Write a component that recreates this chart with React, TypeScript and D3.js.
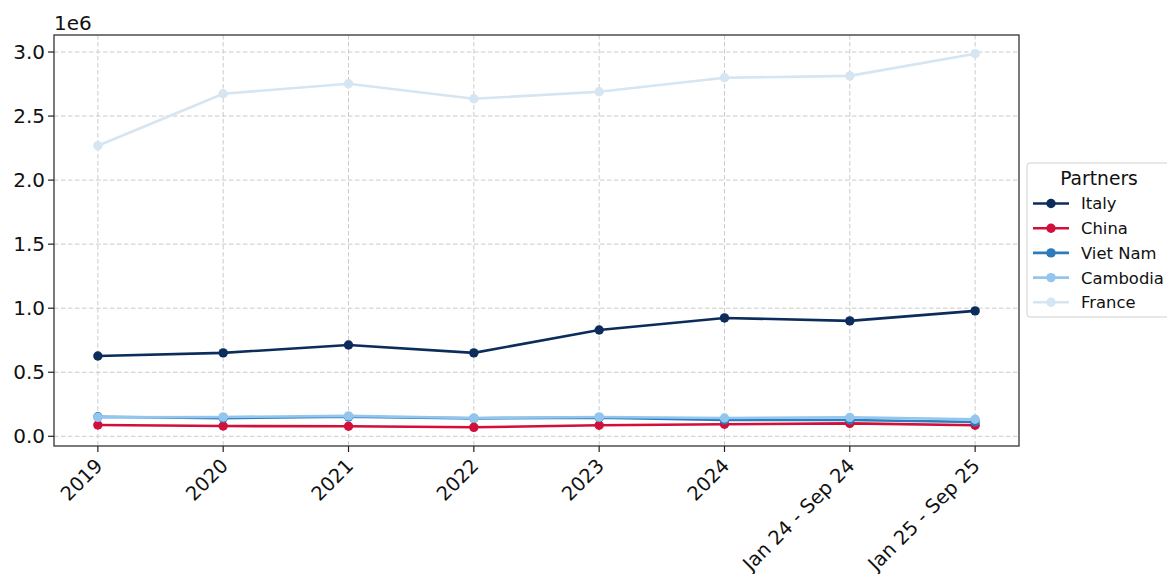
import React from "react";
import * as d3 from "d3";

const categories = ["2019", "2020", "2021", "2022", "2023", "2024", "Jan 24 - Sep 24", "Jan 25 - Sep 25"];
const italy = [627000, 651000, 713000, 651000, 830000, 924000, 901000, 979000];
const china = [88000, 80000, 78000, 70000, 86000, 94000, 101000, 86000];
const vietNam = [152000, 142000, 152000, 140000, 146000, 128000, 127000, 112000];
const cambodia = [148000, 151000, 159000, 143000, 151000, 143000, 148000, 133000];
const france = [2268000, 2674000, 2752000, 2635000, 2690000, 2799000, 2814000, 2987000];
const yTicks = [0, 0.5, 1.0, 1.5, 2.0, 2.5, 3.0];

const series = [
  { name: "Italy", values: italy, color: "#0c2c5c" },
  { name: "China", values: china, color: "#d10f3a" },
  { name: "Viet Nam", values: vietNam, color: "#2c7bba" },
  { name: "Cambodia", values: cambodia, color: "#93c6ee" },
  { name: "France", values: france, color: "#d5e5f1" },
];

export default function App() {
  const W = 1167, H = 574;
  const L = 54, R = 1019, T = 35, B = 446;
  const all = series.flatMap(s => s.values);
  const mn = d3.min(all)!, mx = d3.max(all)!;
  const pad = (mx - mn) * 0.05;
  const y = d3.scaleLinear().domain([mn - pad, mx + pad]).range([B, T]);
  const n = categories.length;
  const x = d3.scaleLinear().domain([-0.35, n - 1 + 0.35]).range([L, R]);
  const line = d3.line<number>().x((_, i) => x(i)).y(d => y(d));
  const font = "DejaVu Sans, sans-serif";
  return (
    <svg width={W} height={H} style={{ position: "absolute", left: 0, top: 0 }} fontFamily={font}>
      <rect x={0} y={0} width={W} height={H} fill="#fff" />
      {categories.map((c, i) => (
        <line key={"gx" + i} x1={x(i)} x2={x(i)} y1={T} y2={B} stroke="#cbcbcb" strokeWidth={1} strokeDasharray="4.5,2.5" />
      ))}
      {yTicks.map((t, i) => (
        <line key={"gy" + i} x1={L} x2={R} y1={y(t * 1e6)} y2={y(t * 1e6)} stroke="#cbcbcb" strokeWidth={1} strokeDasharray="4.5,2.5" />
      ))}
      {series.map(s => (
        <g key={s.name}>
          <path d={line(s.values)!} fill="none" stroke={s.color} strokeWidth={2.6} />
          {s.values.map((v, i) => (
            <circle key={i} cx={x(i)} cy={y(v)} r={4.7} fill={s.color} />
          ))}
        </g>
      ))}
      <rect x={L} y={T} width={R - L} height={B - T} fill="none" stroke="#333" strokeWidth={1.3} />
      {yTicks.map((t, i) => (
        <g key={"ty" + i}>
          <line x1={L - 6} x2={L} y1={y(t * 1e6)} y2={y(t * 1e6)} stroke="#222" strokeWidth={1.2} />
          <text x={L - 9} y={y(t * 1e6)} dy="0.36em" textAnchor="end" fontSize={20} fill="#111">{t.toFixed(1)}</text>
        </g>
      ))}
      <text x={L} y={T - 5} fontSize={20} fill="#111">1e6</text>
      {categories.map((c, i) => (
        <g key={"tx" + i}>
          <line x1={x(i)} x2={x(i)} y1={B} y2={B + 6} stroke="#222" strokeWidth={1.2} />
          <text transform={`translate(${x(i) + 6},${B + 21}) rotate(-45)`} textAnchor="end" fontSize={19.5} fill="#111">{c}</text>
        </g>
      ))}
      <g transform="translate(1027,163)">
        <rect x={0} y={0} width={145} height={154} rx={3} fill="#fff" stroke="#d0d0d0" />
        <text x={72} y={15} dy="0.36em" textAnchor="middle" fontSize={18.7} fill="#111">Partners</text>
        {series.map((s, i) => (
          <g key={s.name} transform={`translate(0,${40.5 + i * 24.7})`}>
            <line x1={6} x2={42} y1={0} y2={0} stroke={s.color} strokeWidth={2.6} />
            <circle cx={24} cy={0} r={4.7} fill={s.color} />
            <text x={54} y={0} dy="0.36em" fontSize={16.4} fill="#111">{s.name}</text>
          </g>
        ))}
      </g>
    </svg>
  );
}
